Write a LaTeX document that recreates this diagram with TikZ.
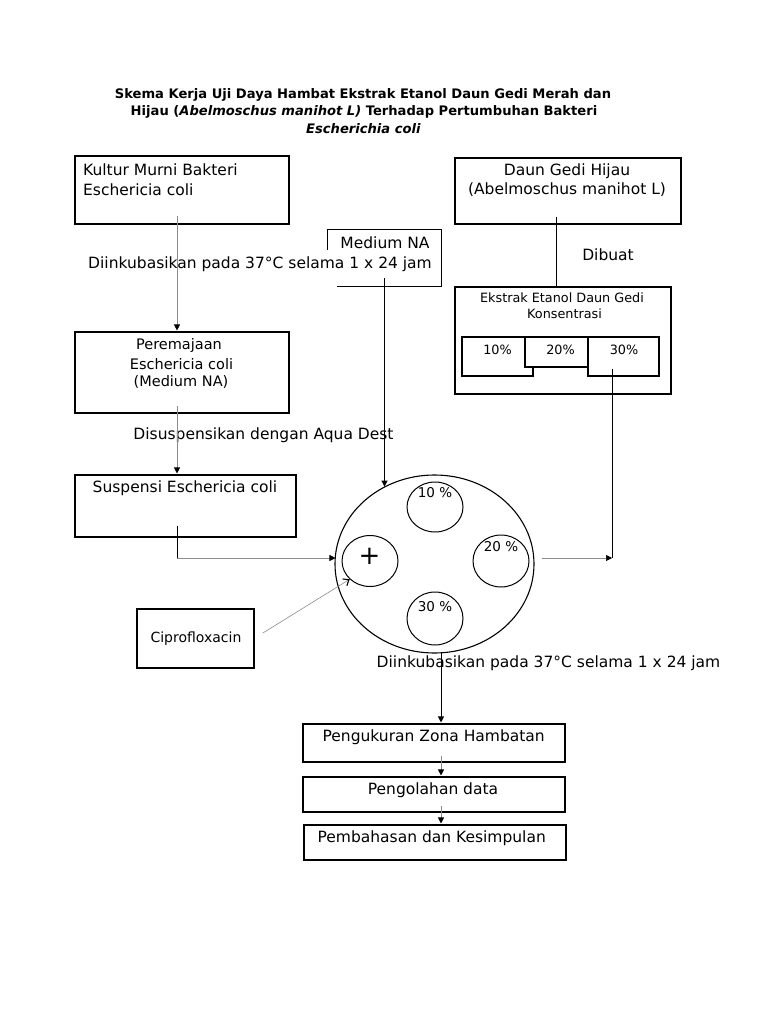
\documentclass[tikz,border=0pt]{standalone}
\usepackage{fontspec}
\setmainfont{DejaVu Sans}
\usetikzlibrary{arrows.meta,shapes.geometric,calc}
\begin{document}
\begin{tikzpicture}[x=1pt,y=-1pt,
  box/.style={draw=black,line width=1.1pt,rectangle,inner sep=0pt},
  txt/.style={inner sep=0pt,font=\fontsize{15.5}{18}\selectfont},
  mtxt/.style={inner sep=0pt,font=\fontsize{14.5}{17}\selectfont},
  stxt/.style={inner sep=0pt,font=\fontsize{12.8}{15}\selectfont},
  ctxt/.style={inner sep=0pt,font=\fontsize{13.5}{16}\selectfont},
  ttl/.style={inner sep=0pt,font=\fontsize{13.1}{16}\selectfont\bfseries},
  glink/.style={draw=black!45,line width=0.6pt},
  blink/.style={draw=black,line width=1pt},
  tip/.style={-{Triangle[length=6pt,width=6pt,color=black,fill=black]}},
  otip/.style={-{Straight Barb[length=5pt,width=8pt,color=black,line width=1.1pt]}},
  lab/.style={inner xsep=1pt,inner ysep=3pt,fill=white,font=\fontsize{15.5}{18}\selectfont}
]
\useasboundingbox[fill=white] (0,0) rectangle (768,1024);

% title
\node[ttl] (t1) at (363,95) {Skema Kerja Uji Daya Hambat Ekstrak Etanol Daun Gedi Merah dan};
\node[ttl] (t2) at (364,112) {Hijau (\textit{Abelmoschus manihot L)} Terhadap Pertumbuhan Bakteri};
\node[ttl] (t3) at (363.5,129) {\textit{Escherichia coli}};

% left column boxes
\node[box,minimum width=214,minimum height=68] (b1) at (182,190) {};
\node[txt,anchor=west] (b1a) at (83,170) {Kultur Murni Bakteri};
\node[txt,anchor=west] (b1b) at (83,189.5) {Eschericia coli};

\node[box,minimum width=214,minimum height=81] (b2) at (182,372.5) {};
\node[mtxt] (b2a) at (179,345) {Peremajaan};
\node[mtxt] (b2b) at (181.5,364) {Eschericia coli};
\node[mtxt] (b2c) at (181,382) {(Medium NA)};

\node[box,minimum width=221,minimum height=62] (b3) at (185.5,506) {};
\node[txt] (b3a) at (185,488) {Suspensi Eschericia coli};

% medium NA (partial border)
\node[minimum width=113,minimum height=56,inner sep=0pt] (mna) at (384.5,258) {};
\draw[line width=1.1pt] ([xshift=9pt]mna.south west) -| (mna.north east) -| ([yshift=-20pt]mna.north west);
\node[txt] (mnat) at (385,243) {Medium NA};

% right column
\node[box,minimum width=226,minimum height=66] (dg) at (568,191) {};
\node[txt] (dga) at (567,171) {Daun Gedi Hijau};
\node[txt] (dgb) at (567,190) {(Abelmoschus manihot L)};
\node[txt] (dib) at (608,255) {Dibuat};

\node[box,minimum width=216,minimum height=107] (ext) at (563,340.5) {};
\node[stxt] (exa) at (562,297.5) {Ekstrak Etanol Daun Gedi};
\node[stxt] (exb) at (564.5,313.5) {Konsentrasi};
\node[box,minimum width=71,minimum height=39] (p10) at (497.5,356.5) {};
\node[box,fill=white,minimum width=63,minimum height=30] (p20) at (556.5,352) {};
\node[box,minimum width=71,minimum height=39] (p30) at (623.5,356.5) {};
\node[stxt] (p10t) at (497.5,349.5) {10\%};
\node[stxt] (p20t) at (560.5,349.5) {20\%};
\node[stxt] (p30t) at (624,349.5) {30\%};

% plate
\node[draw,line width=1.1pt,ellipse,minimum width=199,minimum height=178,inner sep=0pt] (plate) at (434.5,564) {};
\node[draw,line width=1pt,ellipse,minimum width=56,minimum height=51,inner sep=0pt] (pc) at (370,561) {};
\node[inner sep=0pt,font=\fontsize{26}{26}\selectfont] (plus) at (369.5,556) {+};
\node[draw,line width=1pt,ellipse,minimum width=56,minimum height=50,inner sep=0pt] (c10) at (435,507) {};
\node[draw,line width=1pt,ellipse,minimum width=56,minimum height=52,inner sep=0pt] (c20) at (501,561) {};
\node[draw,line width=1pt,ellipse,minimum width=56,minimum height=53,inner sep=0pt] (c30) at (435,618.5) {};
\node[ctxt] (c10t) at (435,493) {10 \%};
\node[ctxt] (c20t) at (501,547) {20 \%};
\node[ctxt] (c30t) at (435,607) {30 \%};

% ciprofloxacin
\node[draw,line width=1.7pt,minimum width=117,minimum height=59,inner sep=0pt] (cip) at (195.5,638.5) {};
\node[inner sep=0pt,font=\fontsize{14}{16}\selectfont] (cipt) at (196,639) {Ciprofloxacin};

% bottom boxes
\node[box,minimum width=262,minimum height=38] (r1) at (434,743) {};
\node[txt] (r1t) at (433.7,737) {Pengukuran Zona Hambatan};
\node[box,minimum width=262,minimum height=35] (r2) at (434,794.5) {};
\node[txt] (r2t) at (433,790) {Pengolahan data};
\node[box,minimum width=262,minimum height=35] (r3) at (435,842.5) {};
\node[txt] (r3t) at (431.7,838) {Pembahasan dan Kesimpulan};

% labels
\node[lab] (l1) at (260,264) {Diinkubasikan pada 37°C selama 1 x 24 jam};
\node[lab] (l2) at (263.5,435) {Disuspensikan dengan Aqua Dest};
\node[lab,fill=none] (l3) at (548.5,663) {Diinkubasikan pada 37°C selama 1 x 24 jam};

% connectors
\coordinate (c1) at (177,558);
\coordinate (c2) at (612,558);
\draw[glink,tip] ([xshift=-5pt,yshift=9pt]b1.south) -- ([xshift=-5pt,yshift=1pt]b2.north);
\draw[glink,tip] ([xshift=-5pt,yshift=8pt]b2.south) -- ([xshift=-8.5pt,yshift=1pt]b3.north);
\draw[blink] ([xshift=-8.5pt,yshift=12pt]b3.south) -- (c1);
\draw[glink,tip] (c1) -- ($(c1 -| plate.west)+(1,0)$);
\draw[blink,tip] ([yshift=8pt]mna.south) -- (mna.south |- plate.123);
\draw[blink] ([xshift=-12pt,yshift=8pt]dg.south) -- ([xshift=-7pt]ext.north);
\draw[blink] ([xshift=-11.5pt,yshift=8pt]p30.south) -- (c2);
\draw[glink,tip] ($(c2 -| plate.east)+(7,0)$) -- (c2);
\draw[glink,otip] ([xshift=8pt,yshift=5.5pt]cip.east) -- (pc.222);
\draw[blink,tip] ([xshift=6.5pt,yshift=1pt]plate.south) -- ([xshift=7pt,yshift=1pt]r1.north);
\draw[glink,tip] ([xshift=7pt,yshift=7pt]r1.south) -- ([xshift=7pt,yshift=1pt]r2.north);
\draw[glink,tip] ([xshift=7pt,yshift=7pt]r2.south) -- ([xshift=6pt,yshift=1pt]r3.north);
\end{tikzpicture}
\end{document}
